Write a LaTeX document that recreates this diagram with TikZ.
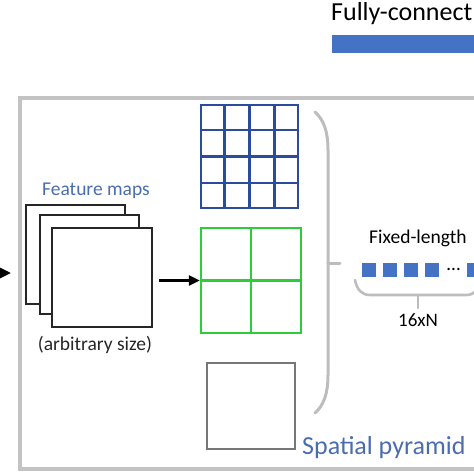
\documentclass[tikz,border=0pt]{standalone}
\usepackage{fontspec}
\setmainfont{Carlito}
\usetikzlibrary{arrows.meta,calc}
\definecolor{sppblue}{HTML}{4472C4}
\definecolor{gridblue}{HTML}{2B4C9B}
\definecolor{gridgreen}{HTML}{2FCB3A}
\definecolor{framegray}{HTML}{C3C3C3}
\definecolor{bracegray}{HTML}{BDBDBD}
\definecolor{labelblue}{HTML}{4A6CB0}
\definecolor{boxgray}{HTML}{777777}
\tikzset{
  fmap/.style={draw=black!85, fill=white, line width=1.8pt, inner sep=0pt, minimum width=99pt, minimum height=99pt},
  cell/.style={inner sep=0pt, line width=2.4pt},
  arr/.style={-{Triangle[length=11pt,width=10pt]}, line width=2.6pt, black},
  lbl/.style={inner sep=0pt, font=\fontsize{19.5}{23}\selectfont},
  brc/.style={bracegray, line width=3pt, line cap=round}
}
\begin{document}
\begin{tikzpicture}[x=1pt,y=-1pt]
\useasboundingbox (0,0) rectangle (474,474);
\clip (0,0) rectangle (474,474);
% top: fully-connected
\node[anchor=base west, inner sep=0pt, font=\fontsize{26}{30}\selectfont] (fc) at (331,20) {Fully-connect};
\fill[sppblue] (332,35) rectangle (480,53);
% outer frame
\draw[framegray, line width=4.5pt] (20,98) rectangle (520,469);
% feature maps stack
\node[fmap] (fm1) at (75.5,254.5) {};
\node[fmap] (fm2) at (89.5,264.5) {};
\node[fmap, minimum width=100pt] (fm3) at (102,277.5) {};
\node[lbl, anchor=base, text=labelblue] (fmlabel) at (96,195) {Feature maps};
\node[lbl, anchor=base, text=black!85] (arb) at (95,350) {(arbitrary size)};
% input arrow
\coordinate (instart) at (-8,273);
\coordinate (inend) at (11,273);
\draw[arr] (instart) -- (inend);
% pyramid levels
\node[cell, draw=gridblue, minimum width=97pt, minimum height=103pt] (blue) at (249.5,156.5) {};
\foreach \i in {1,2,3}{
  \draw[gridblue, line width=2.4pt] ($(blue.north west)!\i/4!(blue.north east)$) -- ($(blue.south west)!\i/4!(blue.south east)$);
  \draw[gridblue, line width=2.4pt] ($(blue.north west)!\i/4!(blue.south west)$) -- ($(blue.north east)!\i/4!(blue.south east)$);
}
\node[cell, draw=gridgreen, line width=2.2pt, minimum width=100pt, minimum height=105pt] (green) at (251,280.5) {};
\draw[gridgreen, line width=2.2pt] (green.north) -- (green.south);
\draw[gridgreen, line width=2.2pt] (green.west) -- (green.east);
\node[cell, draw=boxgray, line width=2pt, minimum width=88pt, minimum height=86pt] (gray) at (251,406) {};
% arrow stack -> green
\draw[arr, shorten <=6pt] (fm3.east |- green.center) -- (green.west);
% big brace
\draw[brc] (315,112) .. controls (324,120) and (328,132) .. (328,150) -- (328,375) .. controls (328,393) and (324,405) .. (315,413);
\draw[brc] (328,263) -- (340,263);
% fixed-length representation
\node[lbl, anchor=base west] (fixed) at (369,243) {Fixed-length};
\foreach \x in {362,383,404,425,467}{
  \fill[sppblue] (\x,263) rectangle ++(14,14);
}
\node[lbl, anchor=base] (dots) at (453.5,270) {…};
\draw[brc, line width=2.6pt] (355,280) .. controls (357,290) and (362,295) .. (370,295) -- (466,295) .. controls (474,295) and (479,290) .. (481,280);
\draw[brc, line width=2.6pt] (418,295) -- (418,308);
\node[lbl, anchor=base, font=\fontsize{19}{23}\selectfont] (n16) at (418,326) {16xN};
% spatial pyramid label
\node[anchor=base west, inner sep=0pt, text=labelblue, font=\fontsize{26}{30}\selectfont] (spp) at (302,454) {Spatial pyramid};
\end{tikzpicture}
\end{document}
